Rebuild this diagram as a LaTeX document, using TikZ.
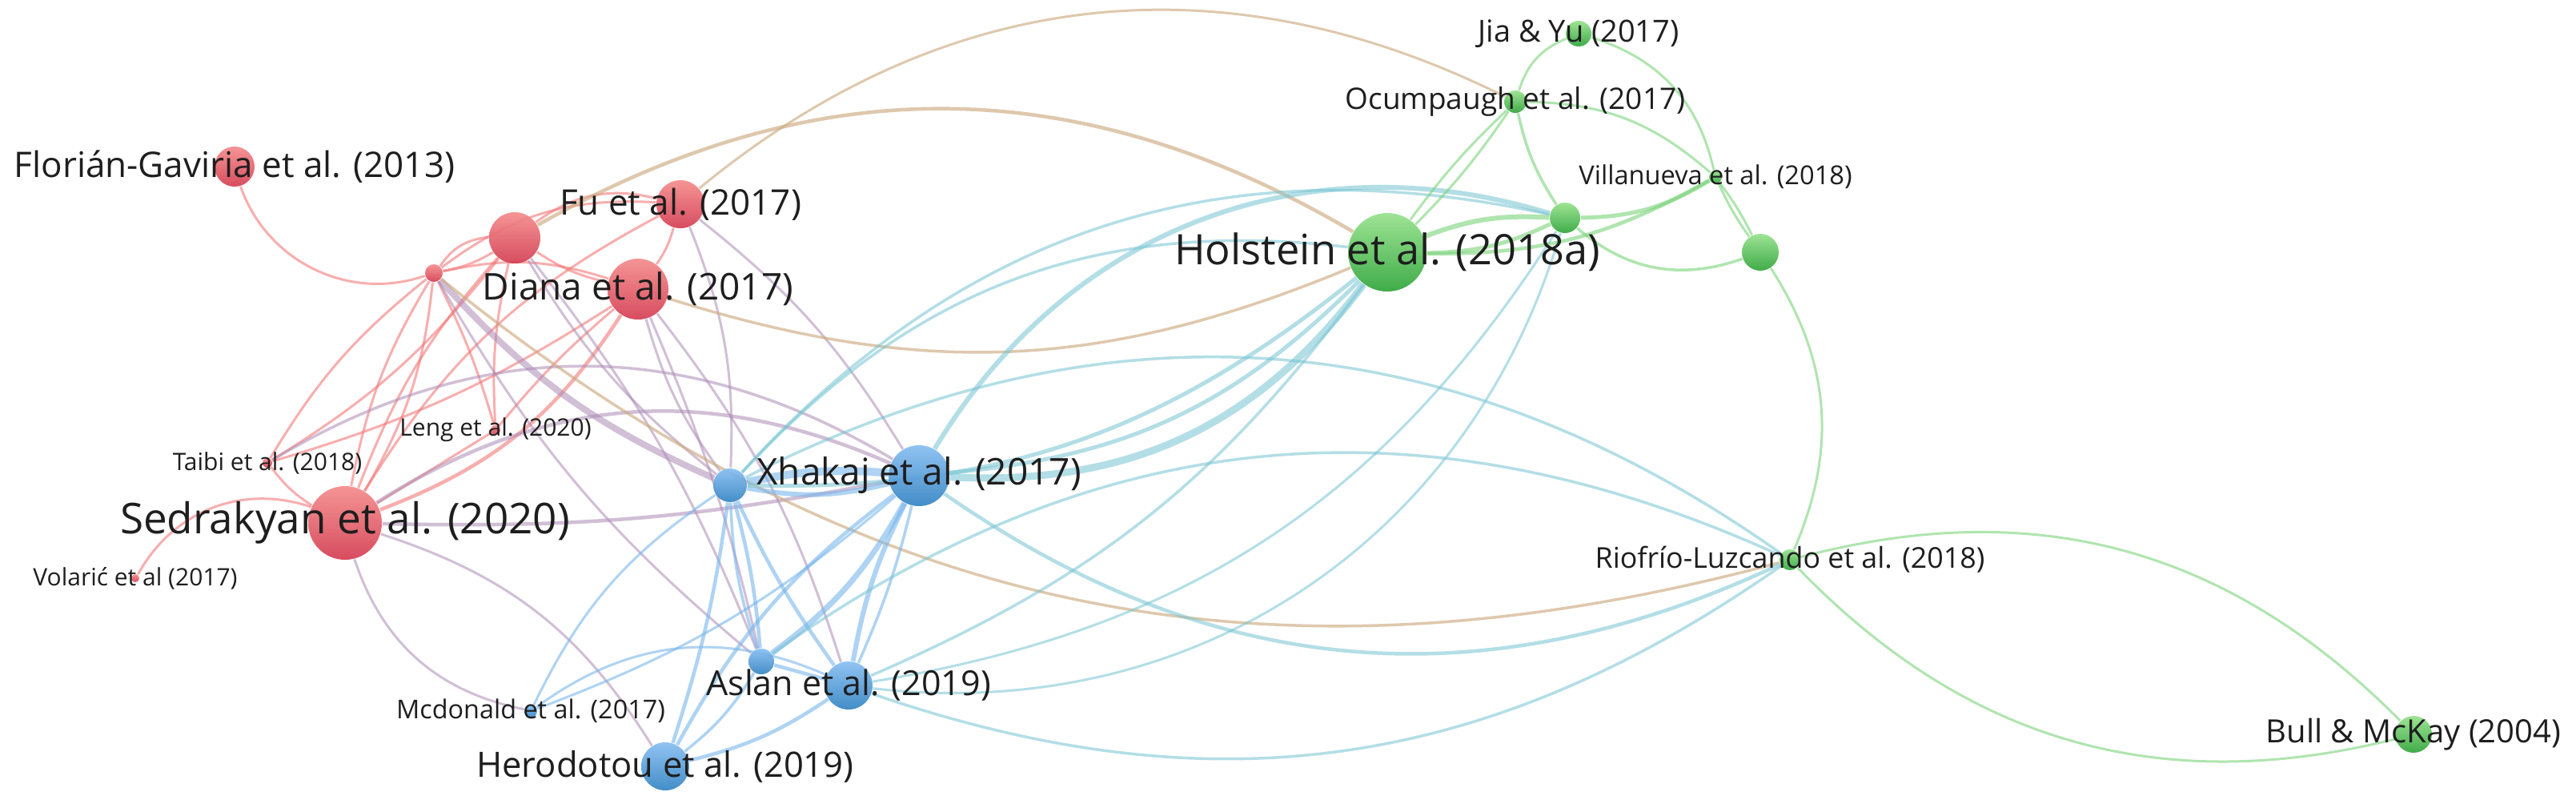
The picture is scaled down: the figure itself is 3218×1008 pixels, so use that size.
\documentclass[tikz,border=0pt]{standalone}
\usepackage{fontspec}
\setmainfont{Open Sans}
\pgfdeclarelayer{bgl}
\pgfdeclarelayer{edges}
\pgfsetlayers{bgl,edges,main}
\newdimen\pxu \pxu=0.25pt
\definecolor{cR}{RGB}{244,120,120}
\definecolor{cB}{RGB}{120,182,236}
\definecolor{cG}{RGB}{122,212,122}
\definecolor{cRB}{RGB}{172,140,182}
\definecolor{cRG}{RGB}{205,172,130}
\definecolor{cBG}{RGB}{118,196,210}
\definecolor{txt}{RGB}{30,30,30}
\tikzset{
  nodeR/.style={circle, inner sep=0pt, draw=none, top color={rgb,255:red,245;green,140;blue,140}, bottom color={rgb,255:red,212;green,62;blue,82}, fill opacity=0.92},
  nodeB/.style={circle, inner sep=0pt, draw=none, top color={rgb,255:red,135;green,190;blue,242}, bottom color={rgb,255:red,52;green,132;blue,195}, fill opacity=0.92},
  nodeG/.style={circle, inner sep=0pt, draw=none, top color={rgb,255:red,150;green,226;blue,140}, bottom color={rgb,255:red,48;green,165;blue,58}, fill opacity=0.92},
  sz/.style={minimum size=#1\pxu},
  lbl/.style={inner sep=0pt, text=txt},
  rr/.style={draw=cR, draw opacity=0.6, line width=#1\pxu}, rr/.default=3,
  bb/.style={draw=cB, draw opacity=0.6, line width=#1\pxu}, bb/.default=3,
  gg/.style={draw=cG, draw opacity=0.6, line width=#1\pxu}, gg/.default=3,
  rb/.style={draw=cRB, draw opacity=0.55, line width=#1\pxu}, rb/.default=3,
  rg/.style={draw=cRG, draw opacity=0.65, line width=#1\pxu}, rg/.default=3,
  bg/.style={draw=cBG, draw opacity=0.55, line width=#1\pxu}, bg/.default=3,
}
\newcommand{\fs}[1]{\fontsize{#1}{#1}\selectfont}
\begin{document}
\begin{tikzpicture}[x=0.25pt,y=-0.25pt]
\useasboundingbox (0,0) rectangle (3218,1008);
\begin{pgfonlayer}{bgl}
\fill[white] (0,0) rectangle (3218,1008);
\end{pgfonlayer}
% ---- nodes ----
\node[nodeR, sz=50] (florian) at (293,208) {};
\node[nodeR, sz=64] (nA) at (643,297) {};
\node[nodeR, sz=60] (fu) at (850,255) {};
\node[nodeR, sz=22] (nB) at (542,341) {};
\node[nodeR, sz=76] (diana) at (797,361) {};
\node[nodeR, sz=12] (leng) at (619,537) {};
\node[nodeR, sz=12] (taibi) at (334,578) {};
\node[nodeR, sz=10] (volaric) at (169,722) {};
\node[nodeR, sz=92] (sedrakyan) at (431,653) {};
\node[nodeB, sz=42] (nC) at (912,606) {};
\node[nodeB, sz=76] (xhakaj) at (1148,594) {};
\node[nodeB, sz=32] (nD) at (951,826) {};
\node[nodeB, sz=60] (aslan) at (1060,856) {};
\node[nodeB, sz=16] (mcdonald) at (663,888) {};
\node[nodeB, sz=60] (herodotou) at (831,957) {};
\node[nodeG, sz=98] (holstein) at (1733,315) {};
\node[nodeG, sz=32] (jia) at (1972,42) {};
\node[nodeG, sz=28] (ocumpaugh) at (1893,127) {};
\node[nodeG, sz=16] (villanueva) at (2143,221) {};
\node[nodeG, sz=38] (nE) at (1955,272) {};
\node[nodeG, sz=46] (nF) at (2199,315) {};
\node[nodeG, sz=26] (riofrio) at (2236,699) {};
\node[nodeG, sz=46] (bull) at (3015,917) {};
% ---- labels ----
\node[lbl, font=\fs{11}] (florianT) at (florian.center) {Florián-Gaviria et al. (2013)};
\node[lbl, font=\fs{11}] (fuT) at (fu.center) {Fu et al. (2017)};
\node[lbl, font=\fs{11.5}] (dianaT) at (diana.center) {Diana et al. (2017)};
\node[lbl, font=\fs{7.5}] (lengT) at (leng.center) {Leng et al. (2020)};
\node[lbl, font=\fs{7.5}] (taibiT) at (taibi.center) {Taibi et al. (2018)};
\node[lbl, font=\fs{7.5}] (volaricT) at (volaric.center) {Volarić et al (2017)};
\node[lbl, font=\fs{13.25}] (sedrakyanT) at (sedrakyan.center) {Sedrakyan et al. (2020)};
\node[lbl, font=\fs{11.5}] (xhakajT) at (xhakaj.center) {Xhakaj et al. (2017)};
\node[lbl, font=\fs{10.75}] (aslanT) at (aslan.center) {Aslan et al. (2019)};
\node[lbl, font=\fs{8.1}] (mcdonaldT) at (mcdonald.center) {Mcdonald et al. (2017)};
\node[lbl, font=\fs{10.9}] (herodotouT) at (herodotou.center) {Herodotou et al. (2019)};
\node[lbl, font=\fs{13.1}] (holsteinT) at (holstein.center) {Holstein et al. (2018a)};
\node[lbl, font=\fs{9.5}] (jiaT) at (jia.center) {Jia \& Yu (2017)};
\node[lbl, font=\fs{9.25}] (ocumpaughT) at (ocumpaugh.center) {Ocumpaugh et al. (2017)};
\node[lbl, font=\fs{8.15}] (villanuevaT) at (villanueva.center) {Villanueva et al. (2018)};
\node[lbl, font=\fs{8.95}] (riofrioT) at (riofrio.center) {Riofrío-Luzcando et al. (2018)};
\node[lbl, font=\fs{10}] (bullT) at (bull.center) {Bull \& McKay (2004)};
% ---- edges ----
\begin{pgfonlayer}{edges}
% red
\draw[rr] (florian) to[bend right=45] (nB);
\draw[rr] (nB) to[bend left=25] (nA);
\draw[rr] (nB) to[bend right=10] (nA);
\draw[rr] (nB) to[bend left=20] (fu);
\draw[rr] (nB) to[bend left=15] (diana);
\draw[rr] (nA) to[bend left=25] (fu);
\draw[rr] (nA) to[bend right=10] (diana);
\draw[rr] (fu) to[bend left=10] (diana);
\draw[rr] (nB) to[bend right=10] (sedrakyan);
\draw[rr] (nB) to[bend left=12] (sedrakyan);
\draw[rr] (nB) to[bend right=10] (taibi);
\draw[rr] (nB) to[bend left=5] (leng);
\draw[rr] (nA) to[bend right=10] (sedrakyan);
\draw[rr] (fu) to[bend right=15] (sedrakyan);
\draw[rr=4.5] (diana) to[bend left=18] (sedrakyan);
\draw[rr] (diana) to[bend right=5] (leng);
\draw[rr] (sedrakyan) to[bend right=40] (volaric);
\draw[rr] (sedrakyan) to[bend left=10] (taibi);
\draw[rr] (taibi) to[bend right=10] (nA);
\draw[rr] (taibi) to[bend right=8] (diana);
\draw[rr] (leng) to[bend left=8] (nA);
\draw[rr] (leng) to (sedrakyan);
% red-blue
\draw[rb=8] (nB) to[bend right=12] (nC);
\draw[rb=3.5] (taibi) to[bend left=31] (xhakaj);
\draw[rb=4.5] (sedrakyan) to[bend left=28] (xhakaj);
\draw[rb=4.5] (sedrakyan) to[bend right=6] (xhakaj);
\draw[rb] (sedrakyan) to[bend right=30] (mcdonald);
\draw[rb] (sedrakyan) to[bend left=20] (herodotou);
\draw[rb] (diana) to[bend right=10] (nC);
\draw[rb] (diana) to[bend left=5] (nD);
\draw[rb] (diana) to[bend left=10] (aslan);
\draw[rb] (nA) to[bend right=10] (nC);
\draw[rb] (nA) to[bend left=8] (nD);
\draw[rb] (fu) to[bend left=12] (nC);
\draw[rb] (fu) to[bend left=10] (xhakaj);
\draw[rb] (nB) to[bend right=10] (nD);
% red-green
\draw[rg=4.5] (nA) to[bend left=30] (holstein);
\draw[rg] (fu) to[bend left=33] (ocumpaugh);
\draw[rg=3.5] (diana) to[bend right=20] (holstein);
\draw[rg=3.5] (nB) to[bend right=27] (riofrio);
% blue
\draw[bb=10] (nC) to[bend left=8] (xhakaj);
\draw[bb=6] (nC) to[bend right=12] (xhakaj);
\draw[bb=4.5] (nC) to[bend left=5] (nD);
\draw[bb=3.5] (nC) to[bend right=8] (nD);
\draw[bb=4.5] (nC) to[bend right=5] (aslan);
\draw[bb=4.5] (nC) to[bend left=5] (herodotou);
\draw[bb] (nC) to[bend right=15] (mcdonald);
\draw[bb=7] (xhakaj) to[bend left=12] (nD);
\draw[bb=6] (xhakaj) to[bend right=8] (aslan);
\draw[bb=3.5] (xhakaj) to[bend left=5] (aslan);
\draw[bb=4.5] (xhakaj) to[bend right=12] (herodotou);
\draw[bb=4.5] (nD) to (aslan);
\draw[bb=3.5] (nD) to[bend left=10] (herodotou);
\draw[bb=4.5] (aslan) to[bend left=10] (herodotou);
\draw[bb] (mcdonald) to[bend left=30] (aslan);
\draw[bb] (mcdonald) to[bend right=10] (xhakaj);
% blue-green
\draw[bg=9] (xhakaj) to[bend right=28] (holstein);
\draw[bg=5] (xhakaj) to[bend right=20] (holstein);
\draw[bg=5] (nC) to[bend right=20] (holstein);
\draw[bg=3.5] (nC) to[bend left=27] (holstein);
\draw[bg=3.5] (nC) to[bend left=30] (nE);
\draw[bg=6] (xhakaj) to[bend left=38] (nE);
\draw[bg=4.5] (xhakaj) to[bend right=30] (riofrio);
\draw[bg=3.5] (nC) to[bend left=31] (riofrio);
\draw[bg=3.5] (nD) to[bend left=30] (riofrio);
\draw[bg=3.5] (aslan) to[bend right=27] (riofrio);
\draw[bg=3.5] (aslan) to[bend right=15] (holstein);
\draw[bg] (aslan) to[bend right=24] (nE);
\draw[bg] (nE) to[bend left=40] (aslan);
% green
\draw[gg=6] (holstein) to[bend left=12] (nE);
\draw[gg=5] (holstein) to[bend right=12] (nE);
\draw[gg=4.5] (holstein) to[bend right=15] (villanueva);
\draw[gg=5] (nE) to[bend right=15] (villanueva);
\draw[gg=3.5] (nE) to[bend right=30] (nF);
\draw[gg] (ocumpaugh) to[bend left=5] (holstein);
\draw[gg] (ocumpaugh) to[bend right=5] (holstein);
\draw[gg] (ocumpaugh) to[bend left=25] (jia);
\draw[gg] (ocumpaugh) to[bend left=20] (villanueva);
\draw[gg=3.5] (ocumpaugh) to[bend right=10] (nE);
\draw[gg] (jia) to[bend left=30] (villanueva);
\draw[gg] (villanueva) to[bend left=5] (nF);
\draw[gg] (villanueva) to[bend right=5] (nF);
\draw[gg] (nF) to[bend left=28] (riofrio);
\draw[gg] (riofrio) to[bend left=30] (bull);
\draw[gg] (riofrio) to[bend right=30] (bull);
\end{pgfonlayer}
\end{tikzpicture}
\end{document}
